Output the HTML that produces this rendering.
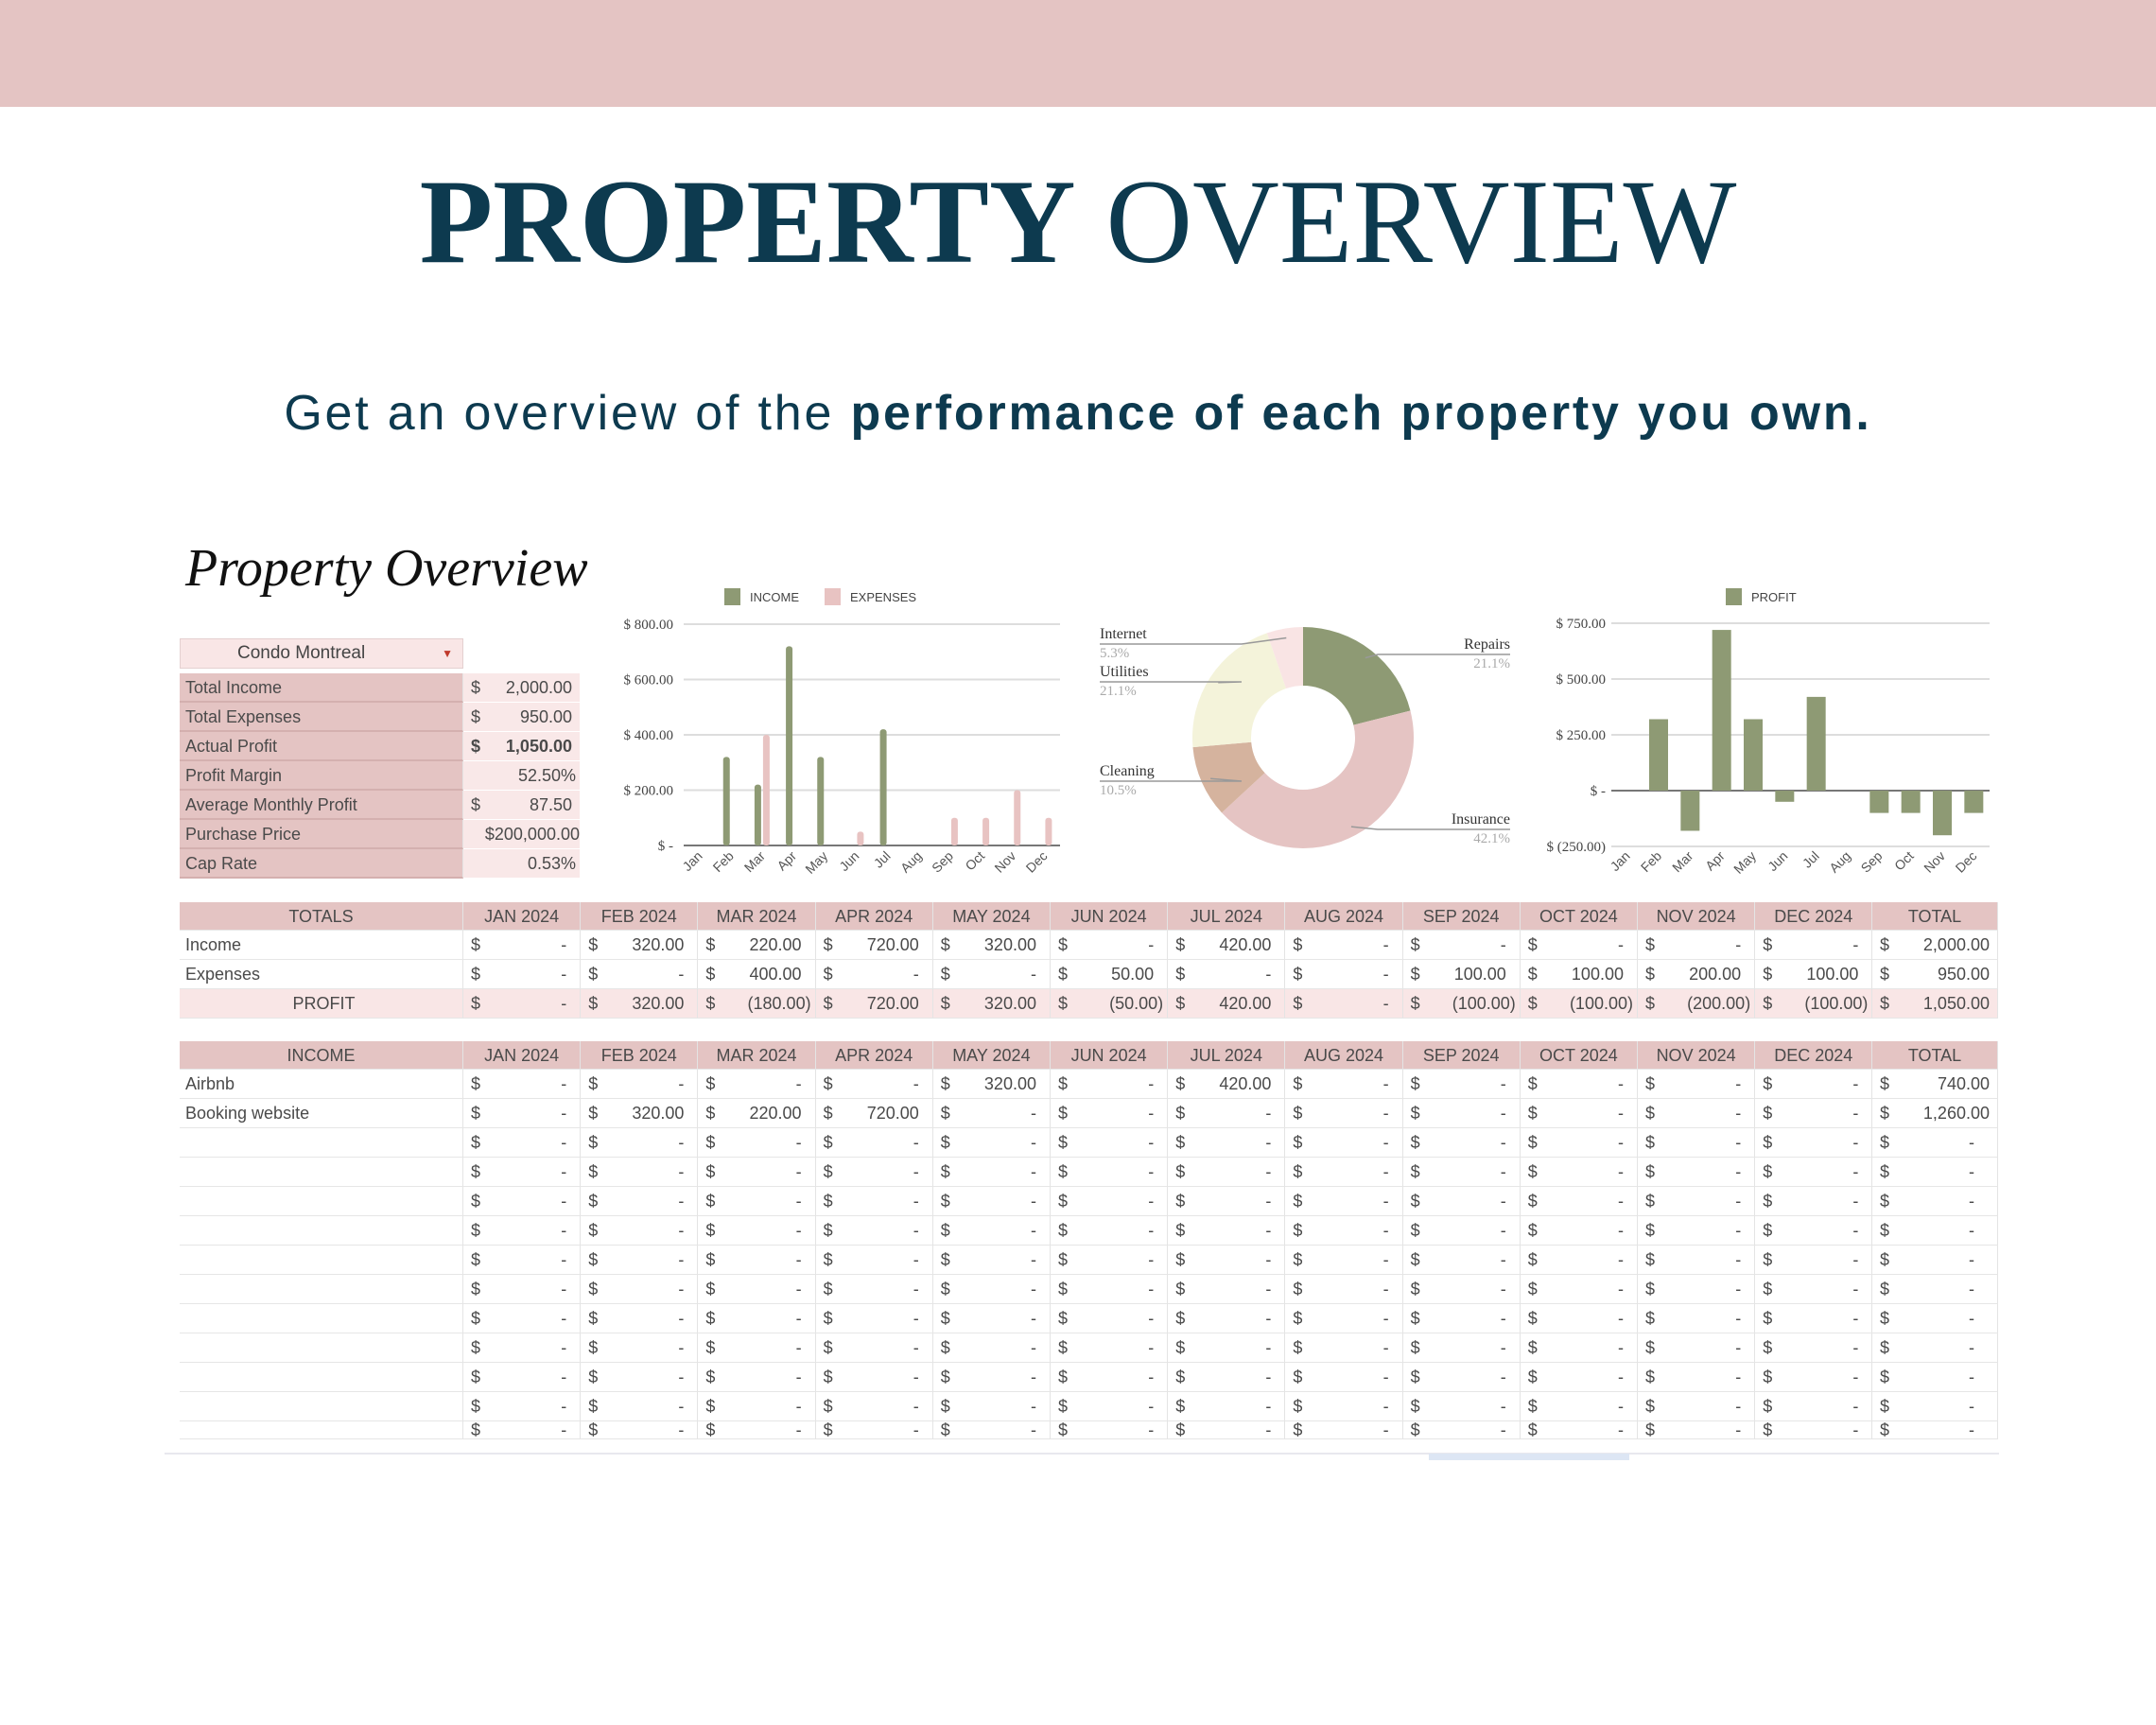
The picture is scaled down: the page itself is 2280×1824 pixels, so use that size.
<!DOCTYPE html>
<html><head><meta charset="utf-8">
<style>
*{margin:0;padding:0;box-sizing:border-box}
body{width:2280px;height:1824px;background:#fff;position:relative;overflow:hidden;font-family:"Liberation Sans",sans-serif;color:#444}
.abs{position:absolute}
.c{position:absolute;font-size:18px;color:#4a4a4a;white-space:nowrap;overflow:hidden;border-right:1px solid #e4e4e4;border-bottom:1px solid #e6e6e6}
.c .d{position:absolute;left:8px}
.c .v{position:absolute;right:8px}
</style></head><body>
<div class="abs" style="left:0;top:0;width:2280px;height:113px;background:#e4c4c3"></div>
<div class="abs" style="left:0;top:160px;width:2280px;text-align:center;font-family:'Liberation Serif',serif;font-size:127px;color:#0d3a4f;line-height:150px"><b>PROPERTY</b> OVERVIEW</div>
<div class="abs" style="left:0;top:405px;width:2280px;text-align:center;font-size:52px;letter-spacing:2.8px;color:#0d3a4f;line-height:64px">Get an overview of the <b>performance of each property you own.</b></div>
<div class="abs" style="left:196px;top:565px;font-family:'Liberation Serif',serif;font-style:italic;font-size:56px;color:#111;line-height:72px">Property Overview</div>
<div class="abs" style="left:190px;top:675px;width:300px;height:32px;background:#f9e6e6;border:1px solid #e4d0d0;font-size:19px;color:#444;line-height:30px;padding-left:60px">Condo Montreal<span style="position:absolute;right:10px;top:0;color:#c0392b;font-size:12px">▼</span></div>
<div id="summary"></div>
<svg id="charts" class="abs" style="left:0;top:0" width="2280" height="1824"></svg>
<div id="tables"></div>
<div class="abs" style="left:174px;top:1536px;width:1940px;height:2px;background:#e8e8ee"></div>
<div class="abs" style="left:1511px;top:1537px;width:212px;height:7px;background:#dde6f4"></div>
<script>
const months=['Jan','Feb','Mar','Apr','May','Jun','Jul','Aug','Sep','Oct','Nov','Dec'];
const monthHeaders=['JAN 2024','FEB 2024','MAR 2024','APR 2024','MAY 2024','JUN 2024','JUL 2024','AUG 2024','SEP 2024','OCT 2024','NOV 2024','DEC 2024'];
const incomeVals=[0,320,220,720,320,0,420,0,0,0,0,0];
const expenseVals=[0,0,400,0,0,50,0,0,100,100,200,100];
const profitVals=[0,320,-180,720,320,-50,420,0,-100,-100,-200,-100];
const airbnbVals=[0,0,0,0,320,0,420,0,0,0,0,0];
const bookingVals=[0,320,220,720,0,0,0,0,0,0,0,0];
const leftTicks=[0,200,400,600,800];
const leftTickLabels=['$ -','$ 200.00','$ 400.00','$ 600.00','$ 800.00'];
const rightTicks=[-250,0,250,500,750];
const rightTickLabels=['$ (250.00)','$ -','$ 250.00','$ 500.00','$ 750.00'];
const pieLabels=['Repairs','Insurance','Cleaning','Utilities','Internet'];
const pieVals=[21.1,42.1,10.5,21.1,5.3];
const summaryLabels=['Total Income','Total Expenses','Actual Profit','Profit Margin','Average Monthly Profit','Purchase Price','Cap Rate'];
const summaryVals=['2,000.00','950.00','1,050.00','52.50%','87.50','$200,000.00','0.53%'];

const NS='http://www.w3.org/2000/svg';
const svg=document.getElementById('charts');
function sv(tag,attrs,parent){const e=document.createElementNS(NS,tag);for(const k in attrs)e.setAttribute(k,attrs[k]);(parent||svg).appendChild(e);return e;}
function fmt(v){if(v===0)return '-';const s=Math.abs(v).toFixed(2).replace(/\B(?=(\d{3})+(?!\d))/g,',');return v<0?'('+s+')':s;}

// ---- left chart ----
const L={x0:723,x1:1121,y0:894,k:234/800};
const ly=v=>L.y0-v*L.k;
const lslot=(L.x1-L.x0)/12;
const lx=i=>L.x0+(i+0.5)*lslot;
leftTicks.forEach((t,i)=>{
  const g=sv('line',{x1:L.x0,x2:L.x1,y1:ly(t),y2:ly(t),stroke:t===0?'#777':'#ddd','stroke-width':2});
  
  
  const tx=sv('text',{x:712,y:ly(t)+5,'text-anchor':'end','font-family':'Liberation Serif, serif','font-size':15,fill:'#444'});
  tx.textContent=leftTickLabels[i];
  
  
});
months.forEach((m,i)=>{
  if(incomeVals[i]>0){const b=sv('rect',{x:lx(i)-8,y:ly(incomeVals[i]),width:7,height:incomeVals[i]*L.k,fill:'#8e9a74',rx:3});
  
  }
  if(expenseVals[i]>0){const b=sv('rect',{x:lx(i)+1,y:ly(expenseVals[i]),width:7,height:expenseVals[i]*L.k,fill:'#e8c3c2',rx:3});
  
  }
  const t=sv('text',{x:lx(i)+4,y:906,'text-anchor':'end','font-size':14,fill:'#555',transform:`rotate(-45 ${lx(i)+4} 906)`});
  t.textContent=m;
  
  
});
[['#8e9a74','INCOME',766],['#e8c3c2','EXPENSES',872]].forEach(([c,l,x])=>{
  const r=sv('rect',{x:x,y:622,width:17,height:18,fill:c});
  
  
  const t=sv('text',{x:x+27,y:636,'font-size':13,fill:'#444'});t.textContent=l;
  
  
});

// ---- donut ----
const cx=1378,cy=780,R=117,r=55;
const pieColors=['#8e9a74','#e5c4c3','#d5b39e','#f4f3da','#f9e4e4'];
const total=pieVals.reduce((a,b)=>a+b,0);
let ang=-Math.PI/2;
const mids=[];
pieVals.forEach((v,i)=>{
  const a1=ang+v/total*2*Math.PI;
  const lg=(a1-ang)>Math.PI?1:0;
  const p=[cx+R*Math.cos(ang),cy+R*Math.sin(ang),cx+R*Math.cos(a1),cy+R*Math.sin(a1),cx+r*Math.cos(a1),cy+r*Math.sin(a1),cx+r*Math.cos(ang),cy+r*Math.sin(ang)];
  const s=sv('path',{d:`M${p[0]},${p[1]}A${R},${R} 0 ${lg} 1 ${p[2]},${p[3]}L${p[4]},${p[5]}A${r},${r} 0 ${lg} 0 ${p[6]},${p[7]}Z`,fill:pieColors[i]});
  
  
  mids.push((ang+a1)/2);
  ang=a1;
});
const labelPos=[{x:1597,y:686,a:'end'},{x:1597,y:871,a:'end'},{x:1163,y:820,a:'start'},{x:1163,y:715,a:'start'},{x:1163,y:675,a:'start'}];
pieLabels.forEach((l,i)=>{
  const lp=labelPos[i];
  const px=cx+(R-10)*Math.cos(mids[i]),py=cy+(R-10)*Math.sin(mids[i]);
  const lineX=lp.a==='end'?lp.x-140:lp.x+150;
  const ln=sv('polyline',{points:`${lp.x},${lp.y+6} ${lineX},${lp.y+6} ${px},${py}`,fill:'none',stroke:'#999','stroke-width':1.5});
  
  
  const t=sv('text',{x:lp.x,y:lp.y,'text-anchor':lp.a,'font-family':'Liberation Serif, serif','font-size':16,fill:'#333'});t.textContent=l;
  
  
  const t2=sv('text',{x:lp.x,y:lp.y+20,'text-anchor':lp.a,'font-family':'Liberation Serif, serif','font-size':15,fill:'#aaa'});t2.textContent=pieVals[i].toFixed(1)+'%';
  
  
});

// ---- right chart ----
const Rc={x0:1704,x1:2104,y0:836,k:177/750};
const ry=v=>Rc.y0-v*Rc.k;
const rslot=(Rc.x1-Rc.x0)/12;
const rx=i=>Rc.x0+(i+0.5)*rslot;
rightTicks.forEach((t,i)=>{
  const g=sv('line',{x1:Rc.x0,x2:Rc.x1,y1:ry(t),y2:ry(t),stroke:t===0?'#777':'#ddd','stroke-width':2});
  
  
  const tx=sv('text',{x:1698,y:ry(t)+5,'text-anchor':'end','font-family':'Liberation Serif, serif','font-size':15,fill:'#444'});
  tx.textContent=rightTickLabels[i];
  
  
});
months.forEach((m,i)=>{
  const v=profitVals[i];
  if(v!==0){const b=sv('rect',{x:rx(i)-10,y:Math.min(ry(v),ry(0)),width:20,height:Math.abs(v)*Rc.k,fill:'#8e9a74'});
  
  }
  const t=sv('text',{x:rx(i)+4,y:906,'text-anchor':'end','font-size':14,fill:'#555',transform:`rotate(-45 ${rx(i)+4} 906)`});
  t.textContent=m;
  
  
});
const pr=sv('rect',{x:1825,y:622,width:17,height:18,fill:'#8e9a74'});


const pt=sv('text',{x:1852,y:636,'font-size':13,fill:'#444'});pt.textContent='PROFIT';



// ---- summary ----
const sum=document.getElementById('summary');
function cell(parent,x,y,w,h,bg){const d=document.createElement('div');d.className='c';d.style.cssText+=`left:${x}px;top:${y}px;width:${w}px;height:${h}px;line-height:${h}px;background:${bg||'#fff'}`;parent.appendChild(d);return d;}
summaryLabels.forEach((l,i)=>{
  const y=712+i*31;
  const a=cell(sum,190,y,300,31,'#e4c4c3');a.style.borderBottom='2px solid #d4b0af';a.style.paddingLeft='6px';a.textContent=l;
  
  
  const b=cell(sum,490,y,124,31,'#f9e8e8');b.style.borderColor='#fff';
  
  
  const val=summaryVals[i];
  if(['2,000.00','950.00','1,050.00','87.50'].includes(val)){b.innerHTML=`<span class="d">$</span><span class="v">${val}</span>`;}
  else b.innerHTML=`<span class="v" style="right:${val.startsWith('$')?0:4}px">${val}</span>`;
  if(i===2)b.style.fontWeight='bold';
});

// ---- tables ----
const tb=document.getElementById('tables');
const colX=i=>490+i*124.2;
function header(y,first){
  const h=cell(tb,190,y,300,30,'#e4c4c3');h.style.textAlign='center';h.textContent=first;
  
  
  monthHeaders.forEach((m,i)=>{const c=cell(tb,colX(i),y,124.2,30,'#e4c4c3');c.style.textAlign='center';c.textContent=m;
  
  });
  const t=cell(tb,1980,y,133,30,'#e4c4c3');t.style.textAlign='center';t.textContent='TOTAL';
  
  
}
function row(y,label,vals,bg,center,h){
  h=h||31;
  const a=cell(tb,190,y,300,h,bg);a.style.paddingLeft='6px';if(center)a.style.textAlign='center';a.textContent=label;
  
  
  vals.forEach((v,i)=>{const c=cell(tb,colX(i),y,124.2,h,bg);c.innerHTML=`<span class="d">$</span><span class="v" style="right:${v<0?4:14}px">${fmt(v)}</span>`;
  
  });
  const tot=vals.reduce((a,b)=>a+b,0);
  const t=cell(tb,1980,y,133,h,bg);t.innerHTML=`<span class="d">$</span><span class="v" style="right:${tot===0?24:8}px">${fmt(tot)}</span>`;
  
  
}
header(954,'TOTALS');
row(984,'Income',incomeVals);
row(1015,'Expenses',expenseVals);
row(1046,'PROFIT',profitVals,'#f9e6e6',true);
header(1101,'INCOME');
row(1131,'Airbnb',airbnbVals);
row(1162,'Booking website',bookingVals);
const blank=[0,0,0,0,0,0,0,0,0,0,0,0];
for(let k=0;k<10;k++)row(1193+k*31,'',blank);
row(1503,'',blank,'#fff',false,19);
</script>
</body></html>
